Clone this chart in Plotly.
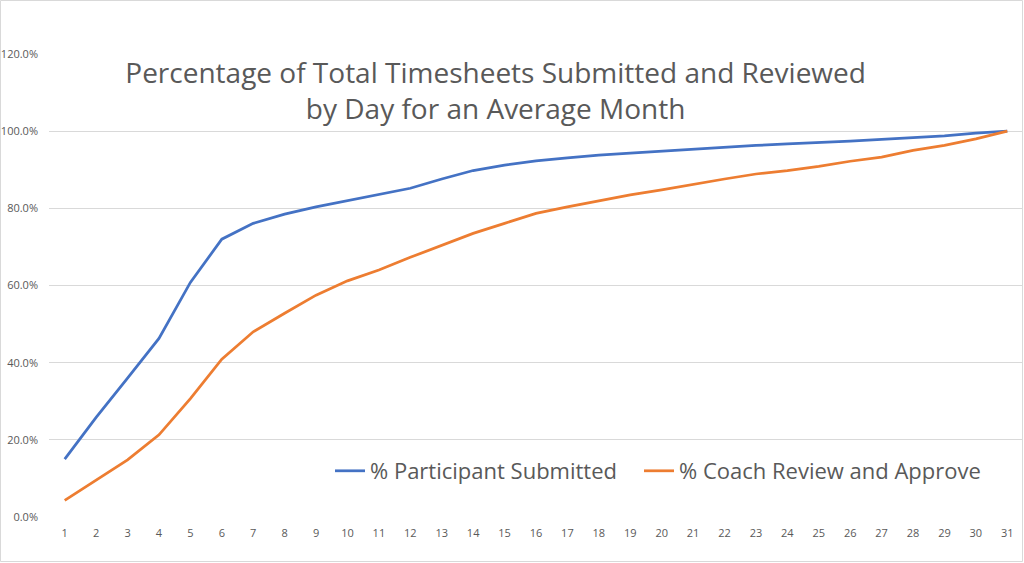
import plotly.graph_objects as go

days = [str(d) for d in range(1, 32)]
participant_submitted = [15.0, 25.8, 36.0, 46.3, 60.8, 72.0, 76.1, 78.5, 80.4, 82.0,
                         83.5, 85.2, 87.6, 89.8, 91.2, 92.3, 93.1, 93.8, 94.3, 94.8,
                         95.4, 95.8, 96.3, 96.7, 97.0, 97.4, 97.9, 98.4, 98.8, 99.5, 100.0]
coach_review = [4.3, 9.5, 14.8, 21.3, 30.7, 40.9, 48.0, 52.8, 57.5, 61.2,
                64.0, 67.3, 70.5, 73.5, 76.1, 78.7, 80.4, 82.0, 83.5, 84.8,
                86.3, 87.6, 88.9, 89.8, 90.9, 92.2, 93.3, 95.0, 96.3, 98.0, 100.0]
y_ticks = [0, 20, 40, 60, 80, 100, 120]

W, H = 1024, 563
ml, mr, mt, mb = 49, 1, 54, 46
pw, ph = W - ml - mr, H - mt - mb

fig = go.Figure()
fig.add_trace(go.Scatter(x=days, y=participant_submitted, mode="lines",
                         name="% Participant Submitted", legend="legend",
                         line=dict(color="#4472C4", width=2.75)))
fig.add_trace(go.Scatter(x=days, y=coach_review, mode="lines",
                         name="% Coach Review and Approve", legend="legend2",
                         line=dict(color="#ED7D31", width=2.75)))

leg_common = dict(orientation="h", xanchor="left", y=(517 - 471) / ph, yanchor="middle",
                  font=dict(size=22, color="#595959"), bgcolor="rgba(0,0,0,0)",
                  itemwidth=30)

fig.update_layout(
    width=W, height=H,
    margin=dict(l=ml, r=mr, t=mt, b=mb, autoexpand=False),
    paper_bgcolor="white", plot_bgcolor="white",
    font=dict(family="Open Sans, Noto Sans, sans-serif", color="#595959"),
    title=dict(text="Percentage of Total Timesheets Submitted and Reviewed<br>by Day for an Average Month",
               x=0.484, xref="container", xanchor="center",
               y=1 - 83 / H, yref="container", yanchor="top",
               font=dict(size=28, color="#595959", family="Open Sans, sans-serif")),
    showlegend=True,
    legend=dict(x=(330 - ml) / pw, **leg_common),
    legend2=dict(x=(639 - ml) / pw, **leg_common),
    xaxis=dict(type="category", range=[-0.5, len(days) - 0.5], showgrid=False,
               zeroline=False, showline=False,
               ticks="", tickfont=dict(size=11, color="#595959"), ticklabelstandoff=8),
    yaxis=dict(range=[0, 120], tickvals=y_ticks, ticktext=[f"{v:.1f}%" for v in y_ticks],
               showgrid=True, gridcolor="#D9D9D9", gridwidth=1, zeroline=False,
               showline=False, ticks="", tickfont=dict(size=11, color="#595959"),
               ticklabelstandoff=10),
    shapes=[dict(type="rect", xref="paper", yref="paper",
                 x0=(0.5 - ml) / pw, x1=(1022.5 - ml) / pw,
                 y0=(517 - 561.5) / ph, y1=(517 - 0.5) / ph,
                 line=dict(color="#D9D9D9", width=1), fillcolor="rgba(0,0,0,0)",
                 layer="below")],
)

fig.write_html("out.html", config={"displayModeBar": False},
               post_script="document.body.style.margin='0';document.body.style.overflow='hidden';")
